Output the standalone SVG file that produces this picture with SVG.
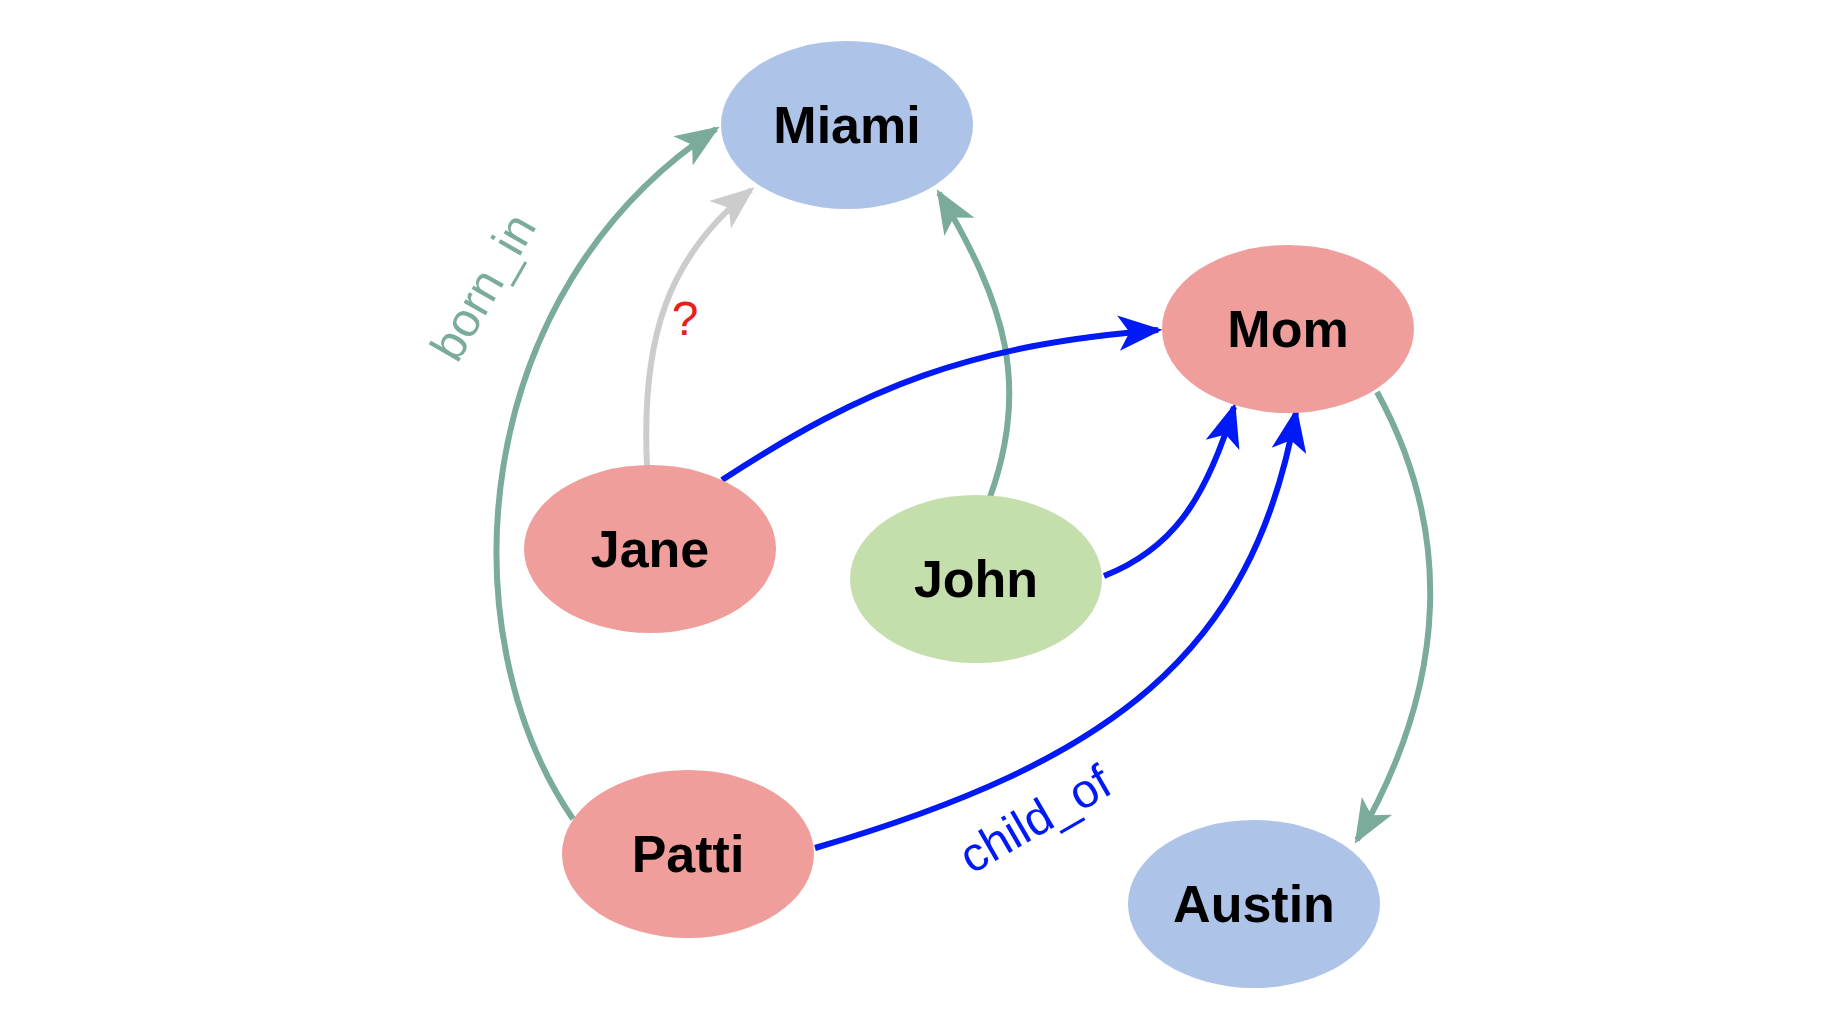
<svg xmlns="http://www.w3.org/2000/svg" width="1834" height="1026" viewBox="0 0 1834 1026">
<style>
.n text{font-family:"Liberation Sans",Arial,sans-serif;font-weight:bold;font-size:52px;text-anchor:middle;dominant-baseline:central;fill:#000}
.e{fill:none;stroke-width:6}
.g{stroke:#7aab9b}.b{stroke:#0019f5}.l{stroke:#cccccc}
.lbl{font-family:"Liberation Sans",Arial,sans-serif;font-size:48px;text-anchor:middle;dominant-baseline:central}
</style>
<defs>
<marker id="mg" markerUnits="userSpaceOnUse" markerWidth="44" markerHeight="44" viewBox="0 0 40 40" refX="36" refY="20" orient="auto"><path d="M0,4 L40,20 L0,36 L10,20 Z" fill="#7aab9b"/></marker>
<marker id="mb" markerUnits="userSpaceOnUse" markerWidth="44" markerHeight="44" viewBox="0 0 40 40" refX="36" refY="20" orient="auto"><path d="M0,4 L40,20 L0,36 L10,20 Z" fill="#0019f5"/></marker>
<marker id="ml" markerUnits="userSpaceOnUse" markerWidth="44" markerHeight="44" viewBox="0 0 40 40" refX="36" refY="20" orient="auto"><path d="M0,4 L40,20 L0,36 L10,20 Z" fill="#cccccc"/></marker>
</defs>
<rect width="1834" height="1026" fill="#fff"/>
<g id="connectors">
<path class="e g" d="M573,819 C445,632 468,293 716,129" marker-end="url(#mg)"/>
<path class="e l" d="M647,466 C641,339 667,257 751,190" marker-end="url(#ml)"/>
<path class="e g" d="M990,497 C1030,386 1006,304 939,193" marker-end="url(#mg)"/>
<path class="e b" d="M722,480 C866,386 971,345 1158,330" marker-end="url(#mb)"/>
<path class="e b" d="M1104,576 C1170,550 1205,503 1234,407" marker-end="url(#mb)"/>
<path class="e b" d="M815,848 C1111,761 1252,655 1296,412" marker-end="url(#mb)"/>
<path class="e g" d="M1377,392 C1451,527 1451,679 1357,840" marker-end="url(#mg)"/>
<text class="lbl" x="483" y="287" fill="#7aab9b" transform="rotate(-60 483 287)">born_in</text>
<text class="lbl" x="685" y="318" fill="#e8201a" font-size="58">?</text>
<text class="lbl" x="1035" y="819" fill="#0019f5" transform="rotate(-30 1035 819)">child_of</text>
</g>
<g id="miami" class="n"><ellipse cx="847" cy="125" rx="126" ry="84" fill="#adc3e8"/><text x="847" y="125">Miami</text></g>
<g id="mom" class="n"><ellipse cx="1288" cy="329" rx="126" ry="84" fill="#f09e9c"/><text x="1288" y="329">Mom</text></g>
<g id="jane" class="n"><ellipse cx="650" cy="549" rx="126" ry="84" fill="#f09e9c"/><text x="650" y="549">Jane</text></g>
<g id="john" class="n"><ellipse cx="976" cy="579" rx="126" ry="84" fill="#c4dfab"/><text x="976" y="579">John</text></g>
<g id="patti" class="n"><ellipse cx="688" cy="854" rx="126" ry="84" fill="#f09e9c"/><text x="688" y="854">Patti</text></g>
<g id="austin" class="n"><ellipse cx="1254" cy="904" rx="126" ry="84" fill="#adc3e8"/><text x="1254" y="904">Austin</text></g>
</svg>
